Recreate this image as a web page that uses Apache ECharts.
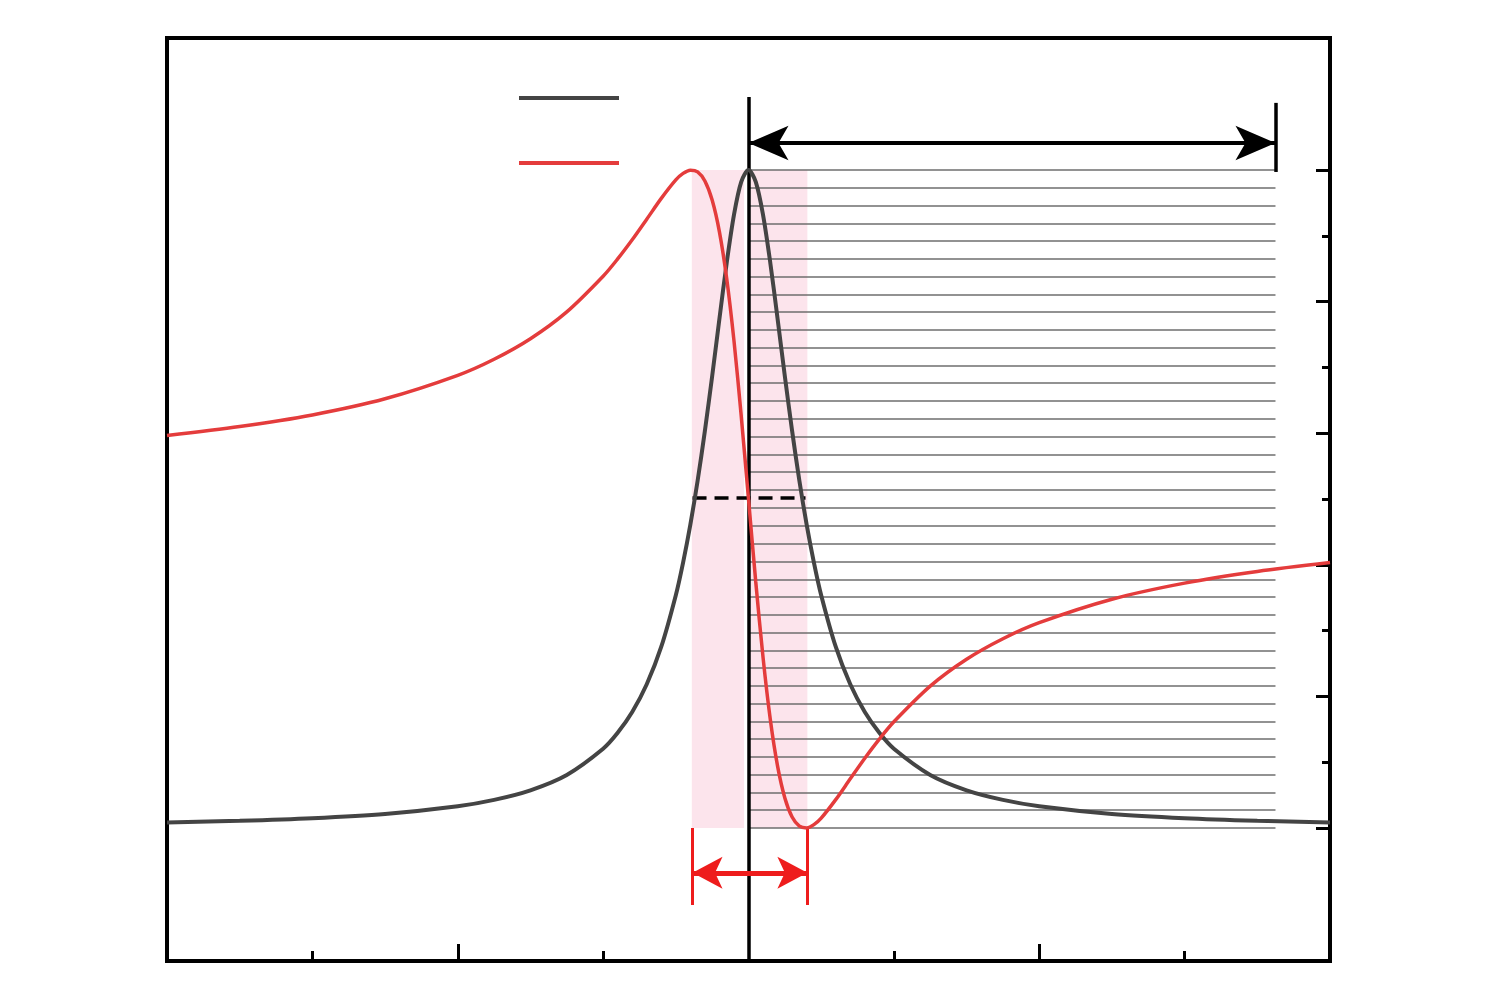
<!DOCTYPE html>
<html><head><meta charset="utf-8">
<script src="https://cdn.jsdelivr.net/npm/echarts@6/dist/echarts.min.js"></script>
<style>html,body{margin:0;background:#fff}#c{width:1500px;height:1000px}</style>
</head><body><div id="c"></div>
<script>
// x positions (detuning, arbitrary units)
const xs = [-4, -3.5, -3, -2.5, -2, -1.75, -1.5, -1.25, -1, -0.9, -0.8, -0.7, -0.6, -0.5, -0.45, -0.4, -0.35, -0.3, -0.25, -0.2, -0.15, -0.1, -0.05, 0,
  0.05, 0.1, 0.15, 0.2, 0.25, 0.3, 0.35, 0.4, 0.45, 0.5, 0.6, 0.7, 0.8, 0.9, 1, 1.25, 1.5, 1.75, 2, 2.5, 3, 3.5, 4];
// black curve (absorption-like peak)
const blackVals = [0.0085, 0.0111, 0.0150, 0.0214, 0.0331, 0.0428, 0.0573, 0.0806, 0.1204, 0.1446, 0.1762, 0.2184, 0.2755, 0.3538, 0.4034, 0.4611, 0.5277, 0.6035, 0.6866, 0.7739, 0.8588, 0.9319, 0.9821, 1.0,
  0.9821, 0.9319, 0.8588, 0.7739, 0.6866, 0.6035, 0.5277, 0.4611, 0.4034, 0.3538, 0.2755, 0.2184, 0.1762, 0.1446, 0.1204, 0.0806, 0.0573, 0.0428, 0.0331, 0.0214, 0.0150, 0.0111, 0.0085];
// red curve (dispersion-like)
const redVals = [0.5966, 0.6101, 0.6278, 0.6523, 0.6879, 0.7123, 0.7435, 0.7843, 0.8385, 0.8648, 0.8939, 0.9252, 0.9569, 0.9850, 0.9949, 0.9998, 0.9971, 0.9833, 0.9543, 0.9060, 0.8351, 0.7406, 0.6261, 0.5000,
  0.3739, 0.2594, 0.1649, 0.0940, 0.0457, 0.0167, 0.0029, 0.0002, 0.0051, 0.0150, 0.0431, 0.0748, 0.1061, 0.1352, 0.1615, 0.2157, 0.2565, 0.2877, 0.3121, 0.3477, 0.3722, 0.3899, 0.4034];
// hatch levels (right region)
const hatchLevels = [0, 0.027, 0.054, 0.081, 0.108, 0.135, 0.162, 0.189, 0.216, 0.243, 0.270, 0.297, 0.324, 0.351, 0.378, 0.405, 0.432, 0.459, 0.486,
  0.514, 0.541, 0.568, 0.595, 0.622, 0.649, 0.676, 0.703, 0.730, 0.757, 0.784, 0.811, 0.838, 0.865, 0.892, 0.919, 0.946, 0.973, 1.0];
const hatchX = [0.01, 3.625];
const xMajorTicks = [-2, 2];
const xMinorTicks = [-3, -1, 1, 3];
const yMajorTicks = [0, 0.2, 0.4, 0.6, 0.8, 1.0];
const yMinorTicks = [0.1, 0.3, 0.5, 0.7, 0.9];
const pinkBands = [[-0.39, -0.03], [0.015, 0.405]];
const halfMax = 0.5015;
const halfX = [-0.385, 0.392];
const bigArrow = { y: 1.041, x: [0, 3.625] };
const centerLine = { x: 0, y: [-0.2, 1.111] };
const endBar = { x: 3.625, y: [0.997, 1.102] };
const redBars = { x: [-0.385, 0.405], y: [0.0, -0.117] };
const redArrow = { y: -0.068, x: [-0.385, 0.405] };

const pair = (a, b) => [{ coord: a }, { coord: b }];
const chart = echarts.init(document.getElementById('c'), null, { renderer: 'canvas' });

const commonAxisX = { type: 'value', min: -4, max: 4, interval: 1, position: 'bottom', axisLabel: { show: false }, splitLine: { show: false }, axisLine: { show: false, onZero: false } };
const commonAxisY = { type: 'value', min: -0.2021, max: 1.2006, position: 'right', axisLabel: { show: false }, splitLine: { show: false }, axisLine: { show: false, onZero: false } };

chart.setOption({
  animation: false,
  backgroundColor: '#fff',
  grid: { left: 167, right: 170, top: 38, bottom: 39, show: true, borderColor: '#000', borderWidth: 4, backgroundColor: 'transparent' },
  legend: [
    { data: ['A'], left: 514, top: 91, orient: 'vertical', icon: 'rect', itemWidth: 100, itemHeight: 4, formatter: () => '', textStyle: { fontSize: 1, lineHeight: 4 }, selectedMode: false },
    { data: ['B'], left: 514, top: 156, orient: 'vertical', icon: 'rect', itemWidth: 100, itemHeight: 4, formatter: () => '', textStyle: { fontSize: 1, lineHeight: 4 }, selectedMode: false }
  ],
  xAxis: [
    Object.assign({}, commonAxisX, { axisTick: { show: true, inside: true, length: 17, customValues: xMajorTicks, lineStyle: { color: '#000', width: 3 } } }),
    Object.assign({}, commonAxisX, { axisTick: { show: true, inside: true, length: 10, customValues: xMinorTicks, lineStyle: { color: '#000', width: 3 } } })
  ],
  yAxis: [
    Object.assign({}, commonAxisY, { axisTick: { show: true, inside: true, length: 14, customValues: yMajorTicks, lineStyle: { color: '#000', width: 3 } } }),
    Object.assign({}, commonAxisY, { axisTick: { show: true, inside: true, length: 8, customValues: yMinorTicks, lineStyle: { color: '#000', width: 3 } } })
  ],
  series: [
    {
      name: 'pink', type: 'line', data: [], z: 1, silent: true,
      markArea: { silent: true, itemStyle: { color: '#fce4ec' }, data: pinkBands.map(b => [{ coord: [b[0], 0] }, { coord: [b[1], 1] }]) }
    },
    {
      name: 'hatch', type: 'line', data: [], z: 2, silent: true,
      markLine: { silent: true, symbol: 'none', label: { show: false }, lineStyle: { color: '#6e6e6e', width: 1.5, type: 'solid' },
        data: hatchLevels.map(v => pair([hatchX[0], v], [hatchX[1], v])) }
    },
    {
      name: 'A', type: 'line', z: 5, symbol: 'none', smooth: 0.3, color: '#444444',
      lineStyle: { color: '#444444', width: 4 }, itemStyle: { color: '#444444' },
      data: xs.map((x, i) => [x, blackVals[i]])
    },
    {
      name: 'B', type: 'line', z: 6, symbol: 'none', smooth: 0.3, color: '#e43c3c',
      lineStyle: { color: '#e43c3c', width: 3.5 }, itemStyle: { color: '#e43c3c' },
      data: xs.map((x, i) => [x, redVals[i]])
    },
    {
      name: 'blackMarks', type: 'line', data: [], z: 8, silent: true,
      markLine: { silent: true, symbol: 'none', label: { show: false }, lineStyle: { color: '#000', width: 3.5, type: 'solid' },
        data: [
          pair([centerLine.x, centerLine.y[0]], [centerLine.x, centerLine.y[1]]),
          pair([endBar.x, endBar.y[0]], [endBar.x, endBar.y[1]])
        ] }
    },
    {
      name: 'dash', type: 'line', data: [], z: 8, silent: true,
      markLine: { silent: true, symbol: 'none', label: { show: false }, lineStyle: { color: '#000', width: 3.5, type: [14, 8] },
        data: [pair([halfX[0], halfMax], [halfX[1], halfMax])] }
    },
    {
      name: 'bigArrow', type: 'line', data: [], z: 8, silent: true,
      markLine: { silent: true, symbol: ['arrow', 'arrow'], symbolSize: [26, 40], label: { show: false }, lineStyle: { color: '#000', width: 4, type: 'solid' },
        data: [pair([bigArrow.x[0], bigArrow.y], [bigArrow.x[1], bigArrow.y])] }
    },
    {
      name: 'redBars', type: 'line', data: [], z: 8, silent: true,
      markLine: { silent: true, symbol: 'none', label: { show: false }, lineStyle: { color: '#ee1c1c', width: 3, type: 'solid' },
        data: redBars.x.map(x => pair([x, redBars.y[0]], [x, redBars.y[1]])) }
    },
    {
      name: 'redArrow', type: 'line', data: [], z: 8, silent: true,
      markLine: { silent: true, symbol: ['arrow', 'arrow'], symbolSize: [24, 30], label: { show: false }, lineStyle: { color: '#ee1c1c', width: 5, type: 'solid' },
        data: [pair([redArrow.x[0], redArrow.y], [redArrow.x[1], redArrow.y])] }
    }
  ]
});
</script>
</body></html>
